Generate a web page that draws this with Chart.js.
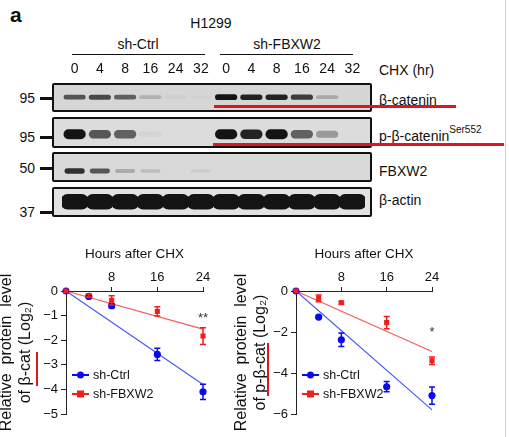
<!DOCTYPE html>
<html>
<head>
<meta charset="utf-8">
<script src="https://cdn.jsdelivr.net/npm/chart.js@4.4.1/dist/chart.umd.min.js"></script>
<style>
  html, body { margin: 0; padding: 0; background: #fff; }
  body { width: 509px; height: 437px; position: relative; overflow: hidden;
         font-family: "Liberation Sans", Arial, sans-serif; color: #111; }
  .t { position: absolute; white-space: nowrap; font-size: 14px; line-height: 1; }
  .c { transform: translate(-50%, -50%); }
  .l { transform: translateY(-50%); }
  .r { transform: translate(-100%, -50%); }
  .box { position: absolute; box-sizing: border-box; border: 2px solid #111; border-radius: 2px; }
  .hl { position: absolute; background: #111; }
  .red { position: absolute; background: #e0161e; }
  .wrap { position: absolute; }
</style>
</head>
<body>

<!-- blot header -->
<div class="t" style="left:10px;top:4px;font-size:21px;font-weight:bold;">a</div>
<div class="t c" style="left:211px;top:23px;">H1299</div>
<div class="t c" style="left:138px;top:44px;">sh-Ctrl</div>
<div class="t c" style="left:287px;top:44px;">sh-FBXW2</div>
<div class="hl" style="left:72px;top:54px;width:133px;height:1px;"></div>
<div class="hl" style="left:220px;top:54px;width:133px;height:1px;"></div>
<div class="t l" style="left:379px;top:70px;">CHX (hr)</div>

<!-- blot frames -->
<div class="box" style="left:52px;top:83px;width:320px;height:29px;background:#d6d6d6;"></div>
<div class="box" style="left:52px;top:117px;width:320px;height:31px;background:#dcdcdc;"></div>
<div class="box" style="left:52px;top:152px;width:320px;height:30px;background:#d9d9d9;"></div>
<div class="box" style="left:52px;top:187px;width:320px;height:30px;background:#e2e2e2;"></div>

<!-- molecular weight marks -->
<div class="t r" style="left:35px;top:98px;">95</div>
<div class="t r" style="left:35px;top:137px;">95</div>
<div class="t r" style="left:35px;top:168px;">50</div>
<div class="t r" style="left:35px;top:212px;">37</div>
<div class="hl" style="left:40px;top:97px;width:12px;height:3px;"></div>
<div class="hl" style="left:40px;top:136px;width:12px;height:3px;"></div>
<div class="hl" style="left:40px;top:167px;width:12px;height:3px;"></div>
<div class="hl" style="left:40px;top:211px;width:12px;height:3px;"></div>

<!-- protein names -->
<div class="t l" style="left:379px;top:100px;">β-catenin</div>
<div class="t l" style="left:379px;top:135px;">p-β-catenin<sup style="font-size:10px;position:relative;top:-2px;">Ser552</sup></div>
<div class="t l" style="left:379px;top:171px;">FBXW2</div>
<div class="t l" style="left:379px;top:200px;">β-actin</div>

<div class="wrap" style="left:62px;top:60px;width:303px;height:160px;z-index:2;"><canvas id="blot"></canvas></div>

<div class="red" style="left:214px;top:105px;width:242px;height:3px;z-index:3;"></div>
<div class="red" style="left:213px;top:143px;width:291px;height:3px;z-index:3;"></div>

<!-- line charts -->
<div class="wrap" style="left:0px;top:240px;width:230px;height:197px;"><canvas id="cat"></canvas></div>
<div class="wrap" style="left:230px;top:240px;width:279px;height:197px;"><canvas id="pcat"></canvas></div>
<div class="red" style="left:36px;top:352px;width:2px;height:34px;"></div>
<div class="red" style="left:267px;top:343px;width:2px;height:53px;"></div>

<div style="position:absolute;left:505px;top:0;width:1px;height:437px;background:#d4d4d4;"></div>

<script>
// blot lanes and band intensities (0 = no band)
const lanes = ['0', '4', '8', '16', '24', '32', '0', '4', '8', '16', '24', '32'];
const bandCatenin = [0.75, 0.8, 0.7, 0.3, 0.1, 0.05, 1.0, 0.95, 0.95, 0.85, 0.35, 0];
const bandPCatenin = [1.0, 0.75, 0.7, 0.1, 0, 0, 1.0, 0.95, 1.0, 0.7, 0.45, 0];
const bandFbxw2 = [0.9, 0.75, 0.35, 0.25, 0, 0.15, 0, 0, 0, 0, 0, 0];
const bandActin = [1, 1, 1, 1, 1, 1, 1, 1, 1, 1, 1, 1];

// quantification, hours after CHX
const hours = [0, 4, 8, 16, 24];
const fitHours = [0, 24];

const catCtrl = [0, -0.22, -0.6, -2.58, -4.1];
const catCtrlErr = [0, 0.05, 0.08, 0.25, 0.31];
const catFbxw2 = [0, -0.19, -0.38, -0.83, -1.83];
const catFbxw2Err = [0, 0.06, 0.19, 0.19, 0.34];
const catFitCtrl = [0, -3.8];
const catFitFbxw2 = [0, -1.55];

const pcatCtrl = [0, -1.27, -2.38, -4.67, -5.1];
const pcatCtrlErr = [0, 0.05, 0.33, 0.25, 0.42];
const pcatFbxw2 = [0, -0.36, -0.57, -1.54, -3.4];
const pcatFbxw2Err = [0, 0.16, 0.06, 0.3, 0.18];
const pcatFitCtrl = [0, -5.8];
const pcatFitFbxw2 = [0, -2.95];

const BLUE = '#0a0aee';
const RED = '#f01e1e';
const BLUE_FIT = '#4a5af0';
const RED_FIT = '#f55a5a';
const FONT = '"Liberation Sans", Arial, sans-serif';

// ---------- blot ----------
function bandSet(vals, row, half, pct, radius) {
  return {
    data: vals.map(v => v > 0 ? [row - half * (0.5 + 0.5 * v), row + half * (0.5 + 0.5 * v)] : null),
    backgroundColor: vals.map(v => 'rgba(20,20,20,' + Math.pow(v, 1.4).toFixed(2) + ')'),
    grouped: false,
    barPercentage: pct,
    categoryPercentage: 1,
    borderSkipped: false,
    borderRadius: radius
  };
}

new Chart(document.getElementById('blot'), {
  type: 'bar',
  data: {
    labels: lanes,
    datasets: [
      bandSet(bandCatenin, 0.49, 0.08, 0.88, 3),
      bandSet(bandPCatenin, 1.55, 0.14, 0.88, 5),
      bandSet(bandFbxw2, 2.6, 0.08, 0.8, 3),
      bandSet(bandActin, 3.48, 0.22, 1.12, 7)
    ]
  },
  options: {
    responsive: true,
    maintainAspectRatio: false,
    animation: false,
    layout: { padding: 0 },
    plugins: { legend: { display: false }, tooltip: { enabled: false } },
    scales: {
      x: {
        position: 'top',
        grid: { display: false, tickLength: 0 },
        border: { display: false },
        ticks: { color: '#111', font: { family: FONT, size: 14 }, padding: 2, maxRotation: 0, autoSkip: false },
        afterFit: s => { s.height = 20; }
      },
      y: { display: false, min: 0, max: 4, reverse: true }
    }
  }
});

// ---------- decay curves ----------
const extras = {
  id: 'extras',
  afterDatasetsDraw(chart, args, opts) {
    const { ctx, chartArea: a, scales: { x, y } } = chart;
    ctx.save();
    // error bars
    opts.errors.forEach(e => {
      ctx.strokeStyle = e.color;
      ctx.lineWidth = 1.5;
      hours.forEach((h, i) => {
        const err = e.err[i];
        if (!err || e.vals[i] === null) return;
        const px = x.getPixelForValue(h);
        const y1 = y.getPixelForValue(e.vals[i] + err);
        const y2 = y.getPixelForValue(e.vals[i] - err);
        ctx.beginPath();
        ctx.moveTo(px, y1); ctx.lineTo(px, y2);
        ctx.moveTo(px - 3, y1); ctx.lineTo(px + 3, y1);
        ctx.moveTo(px - 3, y2); ctx.lineTo(px + 3, y2);
        ctx.stroke();
      });
    });
    // significance
    ctx.fillStyle = '#333';
    ctx.font = '13px ' + FONT;
    ctx.textAlign = 'center';
    ctx.textBaseline = 'middle';
    ctx.fillText(opts.sig.text, x.getPixelForValue(opts.sig.x), y.getPixelForValue(opts.sig.y));
    // legend
    ctx.textAlign = 'left';
    ctx.font = '12.5px ' + FONT;
    opts.legend.forEach((it, k) => {
      const ly = a.bottom - 39 + k * 19;
      ctx.strokeStyle = it.color;
      ctx.fillStyle = it.color;
      ctx.lineWidth = 2;
      ctx.beginPath();
      ctx.moveTo(a.left + 6, ly); ctx.lineTo(a.left + 23, ly);
      ctx.stroke();
      if (it.style === 'circle') {
        ctx.beginPath(); ctx.arc(a.left + 14.5, ly, 3.5, 0, Math.PI * 2); ctx.fill();
      } else {
        ctx.fillRect(a.left + 11, ly - 3.5, 7, 7);
      }
      ctx.fillStyle = '#111';
      ctx.fillText(it.label, a.left + 27, ly + 0.5);
    });
    ctx.restore();
  }
};

function pts(vals) {
  return hours.map((h, i) => ({ x: h, y: vals[i] })).filter(p => p.y !== null);
}

function fitLine(vals, color) {
  return {
    type: 'line', data: fitHours.map((h, i) => ({ x: h, y: vals[i] })),
    borderColor: color, borderWidth: 1.2, pointRadius: 0, clip: false, order: 3
  };
}

function marks(vals, color, style, order) {
  return {
    type: 'scatter', data: pts(vals), backgroundColor: color, borderColor: color,
    pointStyle: style, pointRadius: 3.6, borderWidth: 0, clip: false, order: order
  };
}

function decayChart(id, cfg) {
  return new Chart(document.getElementById(id), {
    type: 'scatter',
    data: {
      datasets: [
        fitLine(cfg.fitCtrl, BLUE_FIT),
        fitLine(cfg.fitFb, RED_FIT),
        marks(cfg.ctrl, BLUE, 'circle', 2),
        marks(cfg.fb, RED, 'rect', 1)
      ]
    },
    options: {
      responsive: true,
      maintainAspectRatio: false,
      animation: false,
      layout: { padding: { left: 0, top: 0, right: cfg.padRight, bottom: 23 } },
      plugins: {
        legend: { display: false },
        tooltip: { enabled: false },
        extras: {
          errors: [
            { vals: cfg.ctrl, err: cfg.ctrlErr, color: BLUE },
            { vals: cfg.fb, err: cfg.fbErr, color: RED }
          ],
          sig: cfg.sig,
          legend: [
            { label: 'sh-Ctrl', color: BLUE, style: 'circle' },
            { label: 'sh-FBXW2', color: RED, style: 'rect' }
          ]
        }
      },
      scales: {
        x: {
          type: 'linear', position: 'top', min: 0, max: 24,
          title: { display: true, text: 'Hours after CHX', color: '#111',
                   font: { family: FONT, size: 13.5, lineHeight: 1.2 }, padding: { top: 6, bottom: 0 } },
          ticks: { stepSize: 8, color: '#111', font: { family: FONT, size: 13 }, padding: 2,
                   callback: v => v === 0 ? '' : v },
          grid: { drawOnChartArea: false, tickLength: 4,
                  color: c => c.tick && c.tick.value === 0 ? 'rgba(0,0,0,0)' : '#222' },
          border: { display: true, color: '#222', width: 1 },
          afterFit: s => { s.height = 51; }
        },
        y: {
          min: cfg.yMin, max: 0,
          title: { display: true, text: cfg.yTitle, color: '#111',
                   font: { family: FONT, size: 16, lineHeight: 1.2 }, padding: { top: cfg.titlePad, bottom: 0 } },
          ticks: { stepSize: cfg.yStep, color: '#111', font: { family: FONT, size: 13 }, padding: 3,
                   callback: v => v === 0 ? '0' : '\u2212' + Math.abs(v) },
          grid: { drawOnChartArea: false, tickLength: 5, color: '#222' },
          border: { display: true, color: '#222', width: 1 },
          afterFit: s => { s.width = 66; }
        }
      }
    },
    plugins: [extras]
  });
}

decayChart('cat', {
  ctrl: catCtrl, ctrlErr: catCtrlErr, fb: catFbxw2, fbErr: catFbxw2Err,
  fitCtrl: catFitCtrl, fitFb: catFitFbxw2,
  yMin: -5, yStep: 1, padRight: 27, titlePad: -3,
  yTitle: ['Relative  protein  level', 'of β-cat (Log\u2082)'],
  sig: { x: 24, y: -1.1, text: '**' }
});

decayChart('pcat', {
  ctrl: pcatCtrl, ctrlErr: pcatCtrlErr, fb: pcatFbxw2, fbErr: pcatFbxw2Err,
  fitCtrl: pcatFitCtrl, fitFb: pcatFitFbxw2,
  yMin: -6, yStep: 2, padRight: 77, titlePad: 2,
  yTitle: ['Relative  protein  level', 'of p-β-cat (Log\u2082)'],
  sig: { x: 24, y: -2.0, text: '*' }
});
</script>
</body>
</html>
